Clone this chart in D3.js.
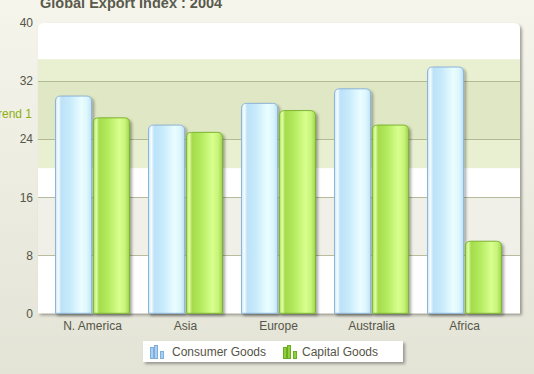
<!DOCTYPE html>
<html><head><meta charset="utf-8">
<script src="https://cdn.jsdelivr.net/npm/d3@7"></script>
<style>
html,body{margin:0;padding:0;}
body{width:534px;height:374px;overflow:hidden;}
text{font-family:"Liberation Sans",Arial,sans-serif;}
</style></head><body>
<svg id="chart" width="534" height="374"></svg>
<script>
const title = "Global Export Index : 2004";
const categories = ["N. America", "Asia", "Europe", "Australia", "Africa"];
const seriesNames = ["Consumer Goods", "Capital Goods"];
const consumerGoods = [30, 26, 29, 31, 34];
const capitalGoods = [27, 25, 28, 26, 10];
const yTicks = [0, 8, 16, 24, 32, 40];
const trendZone = {label: "Trend 1", from: 20, to: 35};

const svg = d3.select("#chart");
const W = 534, H = 374;
const plot = {left: 38, right: 520, top: 23, bottom: 313.3};

const defs = svg.append("defs");
const bg = defs.append("linearGradient").attr("id","bg").attr("x1",0).attr("y1",0).attr("x2",0).attr("y2",1);
bg.append("stop").attr("offset","0%").attr("stop-color","#f5f5ec");
bg.append("stop").attr("offset","100%").attr("stop-color","#e3e3d6");

function barGrad(id, stops){
  const g = defs.append("linearGradient").attr("id",id).attr("x1",0).attr("y1",0).attr("x2",1).attr("y2",0);
  stops.forEach(s=>g.append("stop").attr("offset",s[0]).attr("stop-color",s[1]));
}
barGrad("gBlue", [["0%","#cfe8f8"],["8%","#f4fcff"],["16%","#bde2f8"],["40%","#c7ebfb"],["72%","#eafdff"],["88%","#dcf6fd"],["100%","#bfe0f3"]]);
barGrad("gGreen", [["0%","#a6de58"],["8%","#e2ffa8"],["16%","#a4dc4c"],["40%","#b3ea5e"],["72%","#d8ff8e"],["88%","#c8f478"],["100%","#9ed650"]]);

const sh = defs.append("filter").attr("id","shadow").attr("x","-10%").attr("y","-10%").attr("width","130%").attr("height","130%");
sh.append("feGaussianBlur").attr("in","SourceAlpha").attr("stdDeviation",1.5);
sh.append("feOffset").attr("dx",2).attr("dy",2).attr("result","ob");
sh.append("feComponentTransfer").append("feFuncA").attr("type","linear").attr("slope",0.35);
const mg = sh.append("feMerge"); mg.append("feMergeNode"); mg.append("feMergeNode").attr("in","SourceGraphic");

svg.append("rect").attr("width",W).attr("height",H).attr("fill","url(#bg)");

const y = d3.scaleLinear().domain([0,40]).range([plot.bottom, plot.top]);
const x0 = d3.scaleBand().domain(categories).range([46,511]).paddingInner(0.194).paddingOuter(0.097);
const x1 = d3.scaleBand().domain(seriesNames).range([0, x0.bandwidth()]).paddingInner(0.02);

function topRounded(x, yTop, w, h, r){
  return `M${x},${yTop+h}V${yTop+r}Q${x},${yTop} ${x+r},${yTop}H${x+w-r}Q${x+w},${yTop} ${x+w},${yTop+r}V${yTop+h}Z`;
}
const pw = plot.right-plot.left, ph = plot.bottom-plot.top;
defs.append("clipPath").attr("id","plotClip").append("path").attr("d", topRounded(plot.left, plot.top, pw, ph, 6));
svg.append("path").attr("d", topRounded(plot.left, plot.top, pw, ph, 6)).attr("fill","#fff").attr("filter","url(#shadow)");

const pg = svg.append("g").attr("clip-path","url(#plotClip)");
for(let i=0;i<yTicks.length-1;i++){
  if(i%2===1){
    pg.append("rect").attr("x",plot.left).attr("width",pw)
      .attr("y",y(yTicks[i+1])).attr("height",y(yTicks[i])-y(yTicks[i+1])).attr("fill","#f0f0e8");
  }
}
pg.append("rect").attr("x",plot.left).attr("width",pw)
  .attr("y",y(trendZone.to)).attr("height",y(trendZone.from)-y(trendZone.to))
  .attr("fill","#c5d88a").attr("fill-opacity",0.38);
yTicks.slice(1,-1).forEach(t=>{
  pg.append("line").attr("x1",plot.left).attr("x2",plot.right).attr("y1",Math.round(y(t))+0.5).attr("y2",Math.round(y(t))+0.5)
    .attr("stroke","#aab08c").attr("stroke-opacity",0.85).attr("stroke-width",1);
});

const yAxis = d3.axisLeft(y).tickValues(yTicks).tickSize(0).tickPadding(5);
const ya = svg.append("g").attr("transform",`translate(${plot.left},0)`).call(yAxis);
ya.select(".domain").remove();
ya.selectAll("text").attr("font-size","12px").attr("fill","#555548").attr("font-family","Liberation Sans, Arial, sans-serif");

svg.append("text").attr("x",32).attr("y",y((trendZone.from+trendZone.to)/2)+4.5).attr("text-anchor","end")
  .attr("font-size","12px").attr("fill","#8fae12").text(trendZone.label);

const data = categories.map((c,i)=>({cat:c, vals:[{s:seriesNames[0], v:consumerGoods[i]},{s:seriesNames[1], v:capitalGoods[i]}]}));
const fills = {"Consumer Goods":"url(#gBlue)","Capital Goods":"url(#gGreen)"};
const strokes = {"Consumer Goods":"#8db4d6","Capital Goods":"#7db532"};
const groups = svg.append("g").selectAll("g").data(data).join("g").attr("transform",d=>`translate(${x0(d.cat)},0)`);
groups.selectAll("path").data(d=>d.vals).join("path")
  .attr("d",d=>{
    const bx = x1(d.s)+0.5, bw = x1.bandwidth()-1, top = y(d.v)+0.5, h = plot.bottom - top;
    return topRounded(bx, top, bw, h, 5);
  })
  .attr("fill",d=>fills[d.s]).attr("stroke",d=>strokes[d.s]).attr("stroke-width",1)
  .attr("filter","url(#shadow)");

const xAxis = d3.axisBottom(x0).tickSize(0).tickPadding(8);
const xa = svg.append("g").attr("transform",`translate(0,${plot.bottom})`).call(xAxis);
xa.select(".domain").remove();
xa.selectAll("text").attr("font-size","12px").attr("fill","#555548").attr("font-family","Liberation Sans, Arial, sans-serif");

svg.append("text").attr("x",40).attr("y",7.5).attr("font-size","14.5px").attr("font-weight","bold")
  .attr("fill","#5a5a4c").text(title);

const lg = svg.append("g");
lg.append("rect").attr("x",143).attr("y",341).attr("width",260).attr("height",21).attr("fill","#fff").attr("filter","url(#shadow)");
const legendItems = [{name:seriesNames[0], x:150, tx:172, c:"#a9d0f2", s:"#7fb0dc"},{name:seriesNames[1], x:283, tx:302, c:"#8fd03a", s:"#6aac22"}];
legendItems.forEach(it=>{
  const hs = [[0,11],[4,13],[10,7]];
  hs.forEach(([dx,hh])=>{
    lg.append("rect").attr("x",it.x+dx+0.5).attr("y",358.5-hh).attr("width",3).attr("height",hh)
      .attr("fill",it.c).attr("stroke",it.s).attr("stroke-width",1);
  });
  lg.append("text").attr("x",it.tx).attr("y",356).attr("font-size","12px").attr("fill","#555548").text(it.name);
});
</script></body></html>
